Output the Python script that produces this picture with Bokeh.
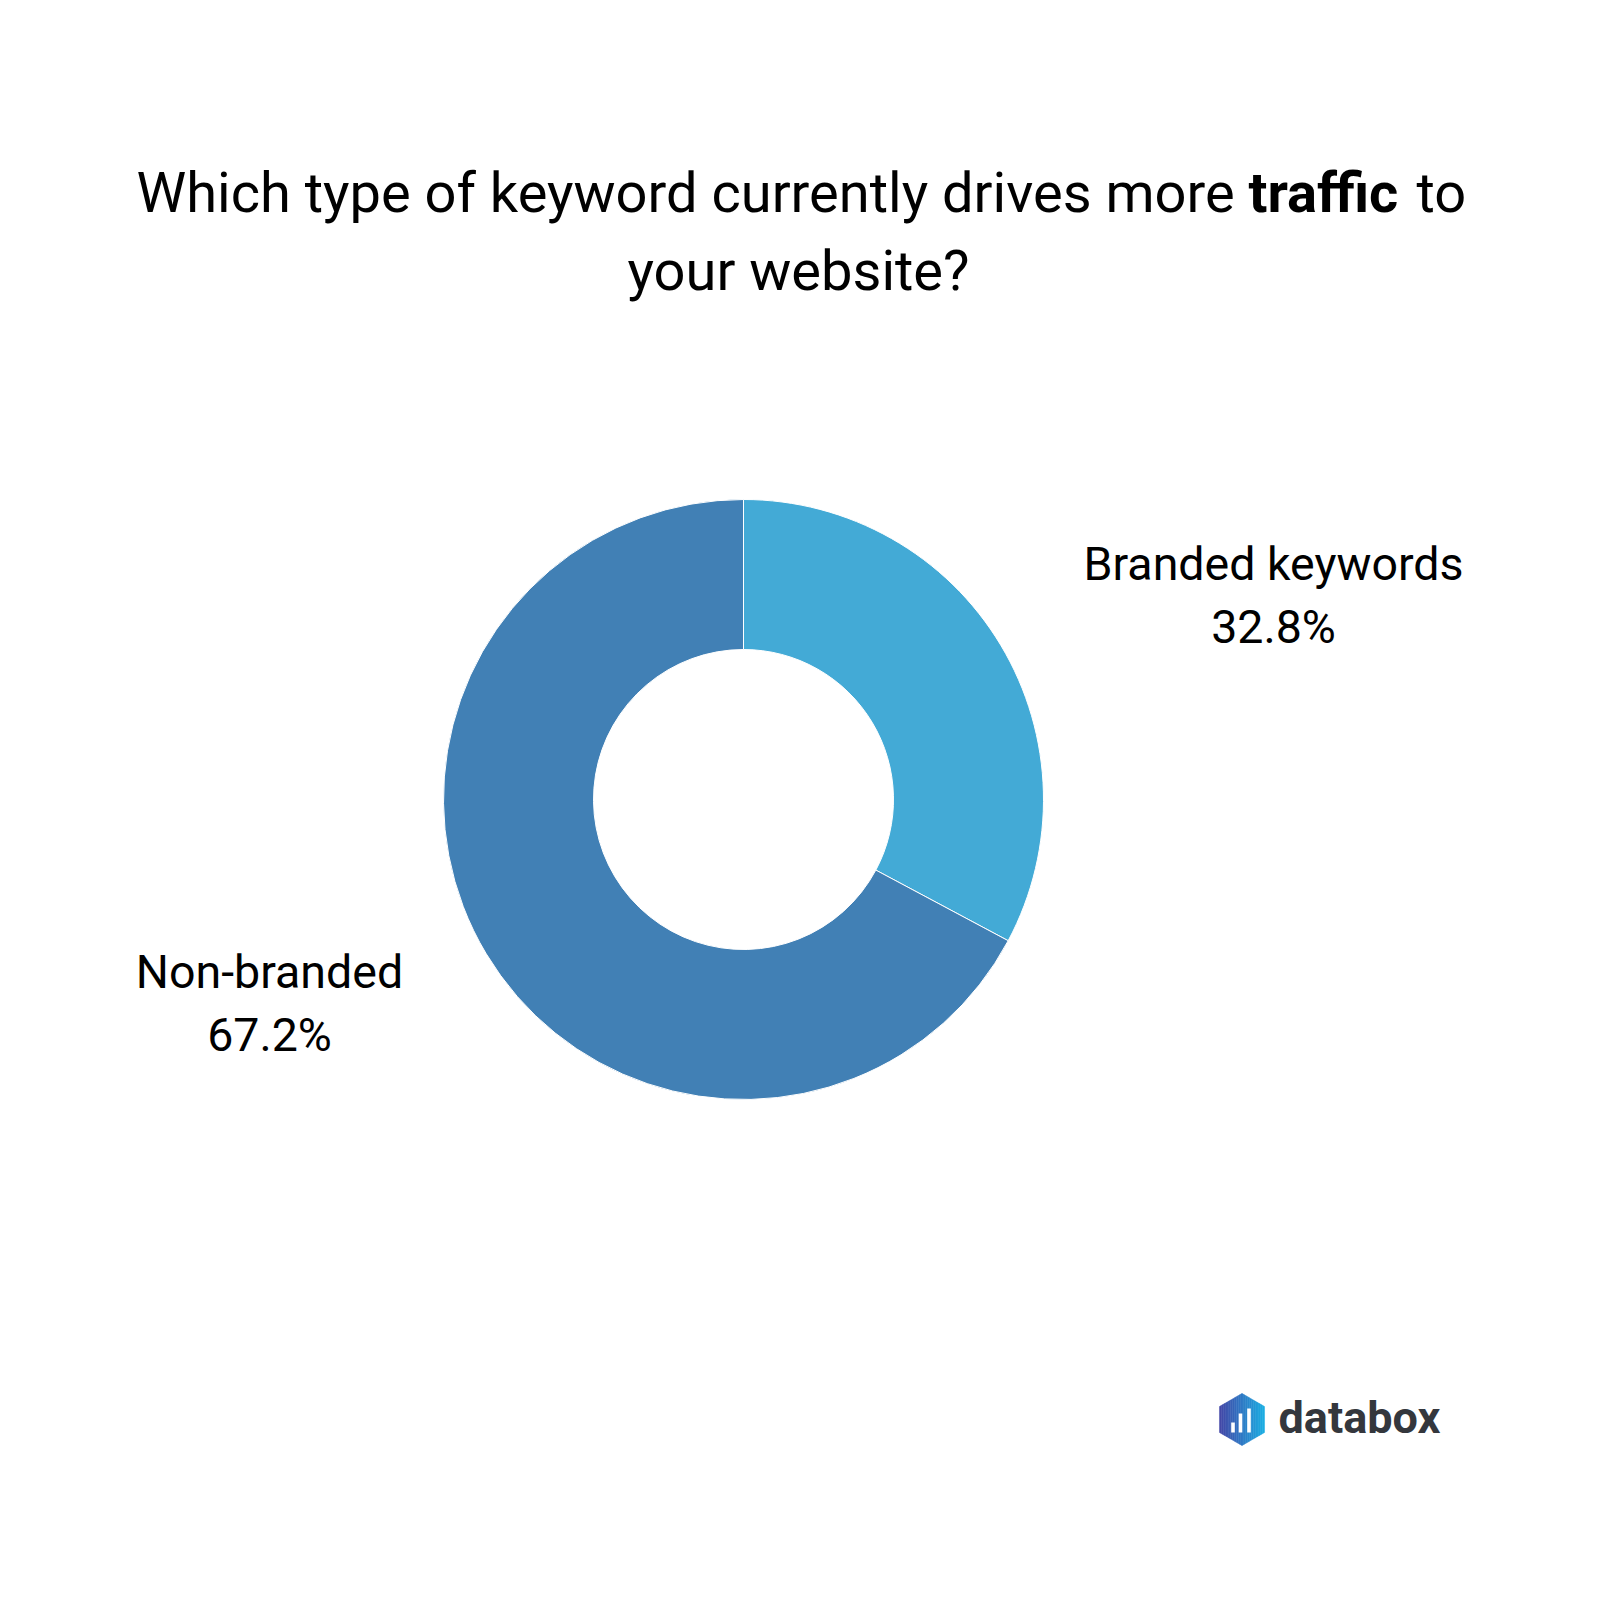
import math
from bokeh.plotting import figure
from bokeh.models import Range1d, ColumnDataSource
from bokeh.core.properties import value
from bokeh.embed import file_html
from bokeh.resources import INLINE

# ---- data ----
categories = ["Branded keywords", "Non-branded"]
shares = [32.8, 67.2]
colors = ["#43AAD6", "#4180B5"]
title_parts = ["Which type of keyword currently drives more", "traffic", "to"]
title_line2 = "your website?"

FONT = "Roboto"
INK = "#000000"
W = H = 1592


def py(y):
    """page pixel y -> data y"""
    return 1600 - y


p = figure(width=W, height=H, output_backend="svg", toolbar_location=None,
           x_range=Range1d(0, 1592), y_range=Range1d(8, 1600), min_border=0)
p.axis.visible = False
p.grid.visible = False
p.outline_line_color = None
p.background_fill_color = "white"
p.border_fill_color = "white"

# ---- donut ----
cx, cy = 743, py(799)
starts, ends = [], []
acc = 0.0
for s in shares:
    starts.append(math.radians(90 - acc * 3.6))
    acc += s
    ends.append(math.radians(90 - acc * 3.6))
src = ColumnDataSource(dict(cat=categories, share=shares, color=colors,
                            start=starts, end=ends,
                            x=[cx] * len(shares), y=[cy] * len(shares)))
p.annular_wedge(x="x", y="y", inner_radius=150, outer_radius=300,
                start_angle="start", end_angle="end", direction="clock",
                fill_color="color", line_color="white", line_width=1, source=src)

# ---- labels ----
LS = "46.5px"
label_pos = [(1273, 563, 626), (269, 971, 1034)]
for (lx, y1, y2), cat, s in zip(label_pos, categories, shares):
    p.text(x=[lx], y=[py(y1)], text=[cat], text_font=value(FONT), text_font_size=LS,
           text_align="center", text_baseline="alphabetic", text_color=INK)
    p.text(x=[lx], y=[py(y2)], text=[f"{s}%"], text_font=value(FONT), text_font_size=LS,
           text_align="center", text_baseline="alphabetic", text_color=INK)

# ---- title ----
TS = "56px"
p.text(x=[136], y=[py(192)], text=[title_parts[0]], text_font=value(FONT), text_font_size=TS,
       text_align="left", text_baseline="alphabetic", text_color=INK)
p.text(x=[1248], y=[py(192)], text=[title_parts[1]], text_font=value(FONT), text_font_size=TS,
       text_font_style="bold", text_align="left", text_baseline="alphabetic", text_color=INK)
p.text(x=[1416], y=[py(192)], text=[title_parts[2]], text_font=value(FONT), text_font_size=TS,
       text_align="left", text_baseline="alphabetic", text_color=INK)
p.text(x=[798], y=[py(270)], text=[title_line2], text_font=value(FONT), text_font_size=TS,
       text_align="center", text_baseline="alphabetic", text_color=INK)

# ---- databox logo ----
hx, hy, hr = 1241.5, 1419, 26
hw = hr * math.cos(math.radians(30))
n = 24
for i in range(n):
    t = i / (n - 1)
    r = int(0x44 + (0x1C - 0x44) * t)
    g = int(0x48 + (0xAC - 0x48) * t)
    b = int(0xA8 + (0xE2 - 0xA8) * t)
    x0 = hx - hw + 2 * hw * i / n
    x1 = hx - hw + 2 * hw * (i + 1) / n

    def ytop(x):
        return hr - (abs(x - hx) / hw) * (hr / 2)
    xs = [x0, x1, x1, x0]
    ys = [py(hy) + ytop(x0), py(hy) + ytop(x1), py(hy) - ytop(x1), py(hy) - ytop(x0)]
    c = f"#{r:02x}{g:02x}{b:02x}"
    p.patch(x=xs, y=ys, fill_color=c, line_color=c, line_width=0.5)
bars = [(1232.5, 1422), (1240, 1413), (1248.5, 1408)]
for bx, btop in bars:
    p.quad(left=[bx - 1.8], right=[bx + 1.8], top=[py(btop)], bottom=[py(1432)],
           fill_color="white", line_color=None)
p.text(x=[1278], y=[py(1417)], text=["databox"], text_font=value(FONT), text_font_size="45px",
       text_font_style="bold", text_align="left", text_baseline="alphabetic", text_color="#34373d")

open("out.html", "w").write(file_html(p, INLINE))
